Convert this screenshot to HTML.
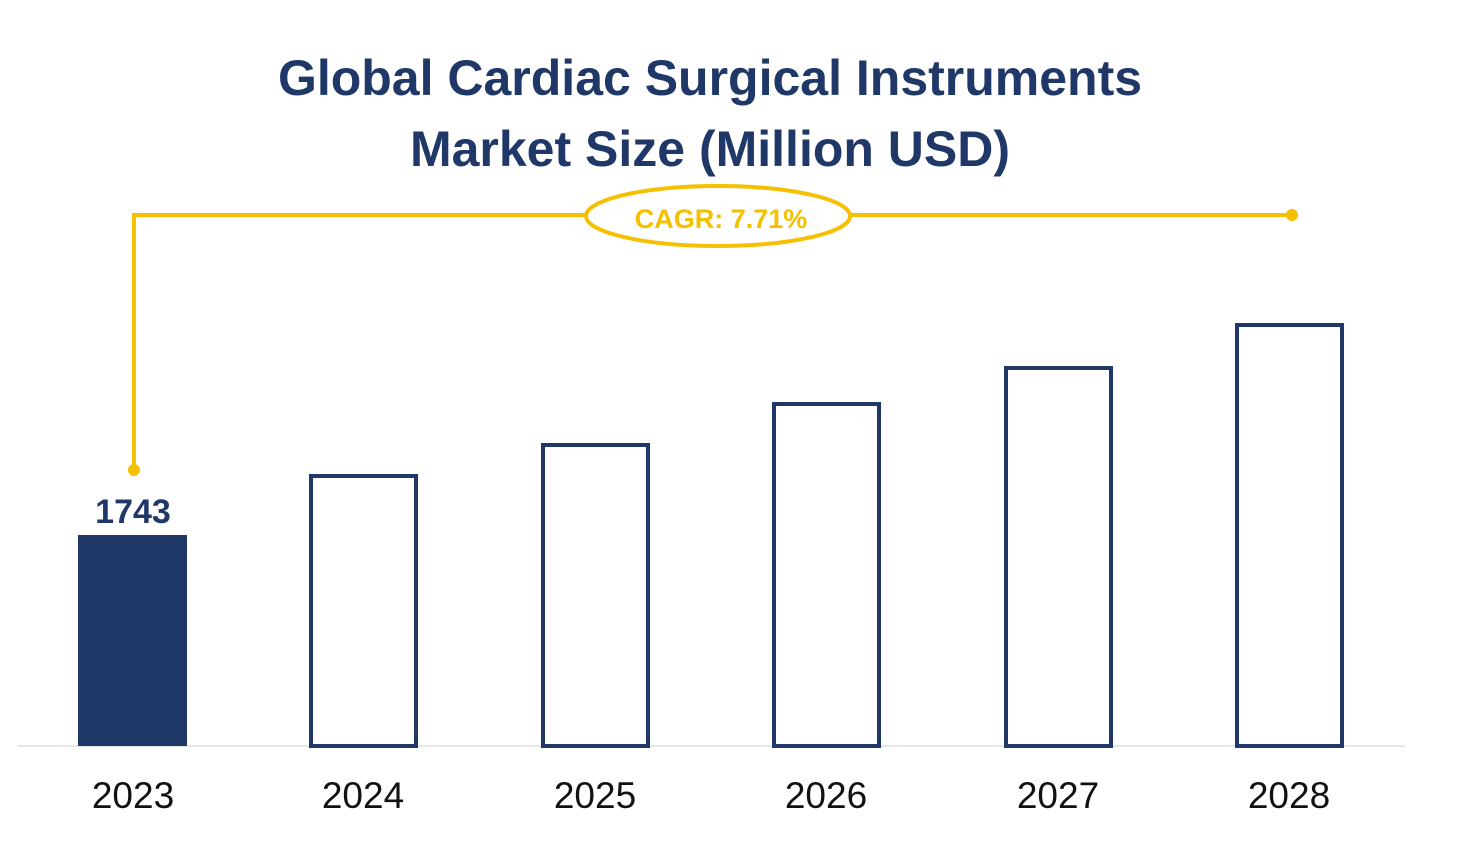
<!DOCTYPE html>
<html><head><meta charset="utf-8"><style>
html,body{margin:0;padding:0;background:#fff;}
svg{display:block;}
</style></head><body>
<svg width="1469" height="851" xmlns="http://www.w3.org/2000/svg" font-family="Liberation Sans, sans-serif">
<text x="710" y="95" text-anchor="middle" font-size="50" font-weight="bold" fill="#1f3868">Global Cardiac Surgical Instruments</text>
<text x="710" y="166" text-anchor="middle" font-size="50" font-weight="bold" fill="#1f3868">Market Size (Million USD)</text>
<g stroke="#f5c000" stroke-width="4" fill="none">
<polyline points="134,470 134,215 1292,215"/>
</g>
<ellipse cx="718" cy="216" rx="132" ry="30" fill="#fff" stroke="#f5c000" stroke-width="4"/>
<text x="721" y="228" text-anchor="middle" font-size="27" font-weight="bold" fill="#f5c000">CAGR: 7.71%</text>
<circle cx="134" cy="470" r="6" fill="#f5c000"/>
<circle cx="1292" cy="215" r="6" fill="#f5c000"/>
<line x1="18" y1="746" x2="1405" y2="746" stroke="#e6e6e6" stroke-width="2"/>
<rect x="78" y="535" width="109" height="211" fill="#1f3868"/>
<g fill="none" stroke="#1f3868" stroke-width="4">
<rect x="311" y="476" width="105" height="270"/>
<rect x="543" y="445" width="105" height="301"/>
<rect x="774" y="404" width="105" height="342"/>
<rect x="1006" y="368" width="105" height="378"/>
<rect x="1237" y="325" width="105" height="421"/>
</g>
<text x="133" y="523" text-anchor="middle" font-size="34" font-weight="bold" fill="#1f3868">1743</text>
<g font-size="37" fill="#111" text-anchor="middle">
<text x="133" y="808">2023</text>
<text x="363" y="808">2024</text>
<text x="595" y="808">2025</text>
<text x="826" y="808">2026</text>
<text x="1058" y="808">2027</text>
<text x="1289" y="808">2028</text>
</g>
</svg>
</body></html>
